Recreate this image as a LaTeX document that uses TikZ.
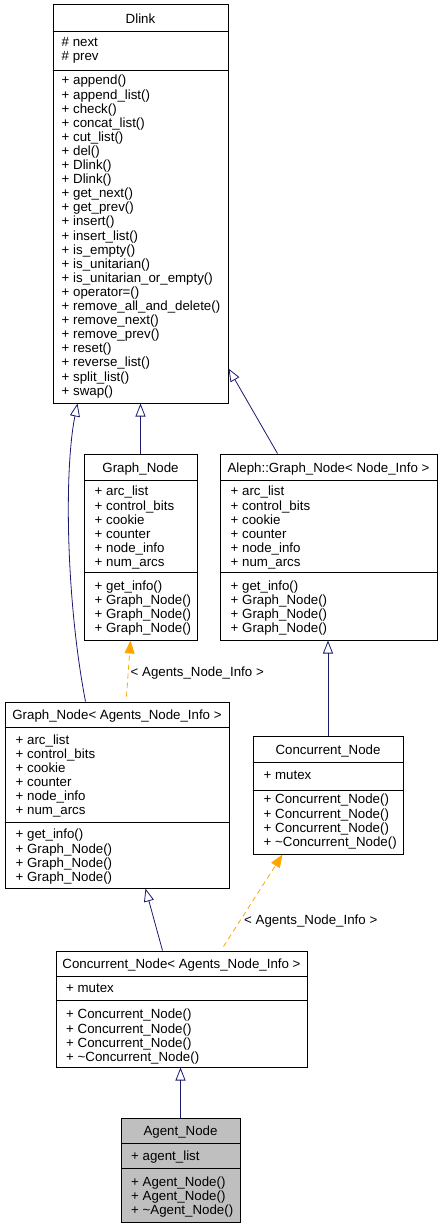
\documentclass[tikz,border=0pt]{standalone}
\usepackage{fontspec}
\setmainfont{Liberation Sans}
\usetikzlibrary{arrows.meta}
\definecolor{navyline}{RGB}{25,25,112}
\definecolor{orangeline}{RGB}{255,165,0}
\definecolor{classgray}{RGB}{191,191,191}
\tikzset{
  classbox/.style={draw=black,line width=1pt,inner sep=0pt,fill=white},
  classtitle/.style={anchor=base,inner sep=0pt},
  classtext/.style={anchor=north west,align=left,inner sep=0pt,yshift=9.87pt,
    execute at begin node=\strut},
  inherit/.style={draw=navyline,line width=0.8pt,-{Triangle[open,length=13pt,width=10pt]}},
  tmplinst/.style={draw=orangeline,line width=0.8pt,dash pattern=on 5pt off 4pt,
    -{Triangle[length=13pt,width=10pt]}},
  tmpllabel/.style={anchor=base west,inner sep=0pt}
}
\begin{document}
\begin{tikzpicture}[x=1pt,y=-1pt,font=\fontsize{13.3}{14.1}\selectfont]
\useasboundingbox (0,0) rectangle (441,1227);

\node[classbox,minimum width=175pt,minimum height=399pt] (dlink) at (140.5,203.5) {};
\draw[line width=1pt] (dlink.west |- 0,31) -- (dlink.east |- 0,31);
\draw[line width=1pt] (dlink.west |- 0,70.7) -- (dlink.east |- 0,70.7);
\node[classtitle] (dlinkname) at (140.5,23.5) {Dlink};
\node[classtext] (dlinkattr) at (61.5,47) {\# next\\\# prev};
\node[classtext] (dlinkops) at (61.5,85) {+ append()\\+ append\_list()\\+ check()\\+ concat\_list()\\+ cut\_list()\\+ del()\\+ Dlink()\\+ Dlink()\\+ get\_next()\\+ get\_prev()\\+ insert()\\+ insert\_list()\\+ is\_empty()\\+ is\_unitarian()\\+ is\_unitarian\_or\_empty()\\+ operator=()\\+ remove\_all\_and\_delete()\\+ remove\_next()\\+ remove\_prev()\\+ reset()\\+ reverse\_list()\\+ split\_list()\\+ swap()};

\node[classbox,minimum width=113pt,minimum height=186pt] (graphnode) at (140.5,547) {};
\draw[line width=1pt] (graphnode.west |- 0,480) -- (graphnode.east |- 0,480);
\draw[line width=1pt] (graphnode.west |- 0,572) -- (graphnode.east |- 0,572);
\node[classtitle] (graphnodename) at (140.5,472) {Graph\_Node};
\node[classtext] (graphnodeattr) at (94.5,496) {+ arc\_list\\+ control\_bits\\+ cookie\\+ counter\\+ node\_info\\+ num\_arcs};
\node[classtext] (graphnodeops) at (94.5,590.5) {+ get\_info()\\+ Graph\_Node()\\+ Graph\_Node()\\+ Graph\_Node()};

\node[classbox,minimum width=217pt,minimum height=186pt] (aleph) at (328.5,547) {};
\draw[line width=1pt] (aleph.west |- 0,480) -- (aleph.east |- 0,480);
\draw[line width=1pt] (aleph.west |- 0,572) -- (aleph.east |- 0,572);
\node[classtitle] (alephname) at (328.5,472) {Aleph::Graph\_Node< Node\_Info >};
\node[classtext] (alephattr) at (230.5,496) {+ arc\_list\\+ control\_bits\\+ cookie\\+ counter\\+ node\_info\\+ num\_arcs};
\node[classtext] (alephops) at (230.5,590.5) {+ get\_info()\\+ Graph\_Node()\\+ Graph\_Node()\\+ Graph\_Node()};

\node[classbox,minimum width=224pt,minimum height=186pt] (gnagents) at (117,795) {};
\draw[line width=1pt] (gnagents.west |- 0,727.5) -- (gnagents.east |- 0,727.5);
\draw[line width=1pt] (gnagents.west |- 0,822.5) -- (gnagents.east |- 0,822.5);
\node[classtitle] (gnagentsname) at (117,719) {Graph\_Node< Agents\_Node\_Info >};
\node[classtext] (gnagentsattr) at (15.5,744.5) {+ arc\_list\\+ control\_bits\\+ cookie\\+ counter\\+ node\_info\\+ num\_arcs};
\node[classtext] (gnagentsops) at (15.5,839) {+ get\_info()\\+ Graph\_Node()\\+ Graph\_Node()\\+ Graph\_Node()};

\node[classbox,minimum width=150pt,minimum height=118pt] (conc) at (328,795) {};
\draw[line width=1pt] (conc.west |- 0,762) -- (conc.east |- 0,762);
\draw[line width=1pt] (conc.west |- 0,790) -- (conc.east |- 0,790);
\node[classtitle] (concname) at (328,754.5) {Concurrent\_Node};
\node[classtext] (concattr) at (263.5,779.5) {+ mutex};
\node[classtext] (concops) at (263.5,804) {+ Concurrent\_Node()\\+ Concurrent\_Node()\\+ Concurrent\_Node()\\+ \textasciitilde Concurrent\_Node()};

\node[classbox,minimum width=251pt,minimum height=116pt] (concagents) at (181.5,1009) {};
\draw[line width=1pt] (concagents.west |- 0,976) -- (concagents.east |- 0,976);
\draw[line width=1pt] (concagents.west |- 0,1000.5) -- (concagents.east |- 0,1000.5);
\node[classtitle] (concagentsname) at (181.5,968) {Concurrent\_Node< Agents\_Node\_Info >};
\node[classtext] (concagentsattr) at (66,992) {+ mutex};
\node[classtext] (concagentsops) at (66,1019) {+ Concurrent\_Node()\\+ Concurrent\_Node()\\+ Concurrent\_Node()\\+ \textasciitilde Concurrent\_Node()};

\node[classbox,fill=classgray,minimum width=119pt,minimum height=104pt] (agent) at (180.5,1170) {};
\draw[line width=1pt] (agent.west |- 0,1143.5) -- (agent.east |- 0,1143.5);
\draw[line width=1pt] (agent.west |- 0,1168.5) -- (agent.east |- 0,1168.5);
\node[classtitle] (agentname) at (180.5,1135.5) {Agent\_Node};
\node[classtext] (agentattr) at (131,1160.5) {+ agent\_list};
\node[classtext] (agentops) at (131,1186.5) {+ Agent\_Node()\\+ Agent\_Node()\\+ \textasciitilde Agent\_Node()};

\draw[inherit] (graphnode.north) -- (dlink.south);
\draw[inherit] ([xshift=58pt]aleph.north west) -- ([yshift=35pt]dlink.south east);
\draw[inherit] ([xshift=81pt]gnagents.north west) .. controls (66,600) and (64,470) .. ([xshift=25pt]dlink.south west);
\draw[tmplinst] ([xshift=122pt,yshift=5pt]gnagents.north west) -- ([xshift=47pt]graphnode.south west);
\node[tmpllabel] (gnagentsarg) at (130.5,676.5) {< Agents\_Node\_Info >};
\draw[inherit] (conc.north) -- (conc.north |- aleph.south);
\draw[inherit] ([xshift=107pt]concagents.north west) -- ([xshift=141pt]gnagents.south west);
\draw[tmplinst] ([xshift=168pt,yshift=4pt]concagents.north west) -- ([xshift=30pt]conc.south west);
\node[tmpllabel] (concagentsarg) at (244,924) {< Agents\_Node\_Info >};
\draw[inherit] (agent.north) -- (agent.north |- concagents.south);
\end{tikzpicture}
\end{document}
